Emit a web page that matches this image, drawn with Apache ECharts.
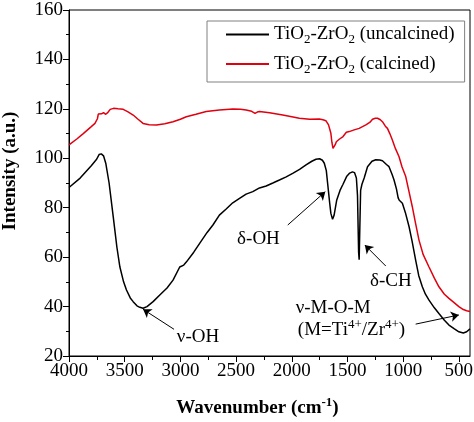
<!DOCTYPE html>
<html>
<head>
<meta charset="utf-8">
<script src="https://cdn.jsdelivr.net/npm/echarts@6/dist/echarts.min.js"></script>
<style>
  html, body { margin: 0; padding: 0; background: #fff; }
  #chart { width: 474px; height: 422px; }
</style>
</head>
<body>
<div id="chart"></div>
<script>
// FTIR spectra, x = wavenumber (cm-1), y = intensity (a.u.)
const uncalcinedWn = [4000, 3900, 3800, 3752, 3730, 3710, 3690, 3670, 3640, 3603, 3570, 3543, 3510, 3484, 3450, 3424, 3390, 3364, 3335, 3300, 3245, 3185, 3120, 3066, 3006, 2970, 2947, 2880, 2827, 2760, 2708, 2650, 2589, 2530, 2469, 2410, 2350, 2290, 2230, 2170, 2111, 2050, 1992, 1930, 1872, 1820, 1783, 1750, 1725, 1708, 1690, 1678, 1660, 1649, 1634, 1620, 1597, 1567, 1540, 1508, 1480, 1455, 1437, 1420, 1410, 1400, 1395, 1390, 1382, 1370, 1350, 1320, 1280, 1246, 1210, 1186, 1150, 1127, 1100, 1082, 1060, 1045, 1035, 1020, 1007, 980, 947, 920, 888, 860, 828, 800, 768, 720, 679, 630, 589, 540, 500, 460, 430, 400];
const uncalcinedI = [88.2, 92, 97, 99.6, 101.5, 101.8, 101, 98, 90, 76.4, 64, 56, 50, 46.7, 43.5, 42, 40.3, 39.7, 39.3, 40, 42, 44.7, 47.5, 50.7, 56, 56.8, 58, 62, 65.6, 70, 73, 77, 79.5, 82, 83.8, 85.5, 86.5, 88, 88.8, 90, 91.2, 92.5, 93.9, 95.5, 97.3, 98.8, 99.6, 99.8, 99.2, 98, 95, 89.8, 82, 77.7, 75.3, 77, 83, 87, 89.5, 92.6, 94, 94.5, 94.2, 92, 85, 62, 59, 70, 87, 89.5, 92, 96.6, 98.8, 99.4, 99.3, 99, 97.5, 96.6, 93.5, 91.2, 87.5, 84, 83, 82.5, 81.8, 78, 72.3, 66.5, 58.8, 52.5, 48, 45, 42.6, 39.5, 37.2, 34.5, 32.5, 31, 29.8, 29.3, 29.8, 31];

const calcinedWn = [4000, 3930, 3872, 3800, 3767, 3745, 3737, 3720, 3708, 3690, 3670, 3650, 3630, 3618, 3600, 3588, 3560, 3513, 3470, 3424, 3380, 3335, 3280, 3215, 3140, 3066, 3000, 2947, 2860, 2768, 2650, 2529, 2460, 2410, 2360, 2330, 2310, 2290, 2200, 2081, 2000, 1932, 1840, 1753, 1720, 1694, 1670, 1649, 1640, 1630, 1620, 1610, 1600, 1574, 1540, 1510, 1484, 1440, 1395, 1335, 1300, 1275, 1250, 1230, 1205, 1186, 1160, 1141, 1120, 1097, 1070, 1037, 1010, 977, 950, 918, 890, 858, 820, 768, 720, 679, 630, 589, 540, 500, 460, 430, 400];
const calcinedI = [105.4, 107.8, 110, 112.8, 114.1, 116, 117.9, 118.2, 118, 118.5, 117.8, 118.6, 119.8, 120.6, 120.2, 120.6, 120, 119.8, 118.8, 117.5, 115.8, 114.1, 113.6, 113.5, 114, 114.8, 115.8, 116.8, 117.8, 118.9, 119.5, 119.9, 119.8, 119.5, 119, 118.2, 118.7, 118.9, 118.4, 117.5, 116.8, 116.2, 115.8, 115.9, 115.6, 115.2, 113.5, 110.1, 106.5, 104, 103.3, 105.5, 106.7, 107.7, 108.8, 110.5, 110.8, 111.5, 112.1, 113.5, 114.5, 115.8, 116.2, 116.2, 115.6, 114.8, 113, 112.1, 110, 107.4, 104, 100.6, 96.5, 92.6, 87, 80.4, 74, 66.9, 61, 56, 51.5, 48, 45, 43.3, 41.5, 40, 38.8, 38.3, 38];

const xMajorTicks = [500, 1000, 1500, 2000, 2500, 3000, 3500, 4000];
const xMinorTicks = [750, 1250, 1750, 2250, 2750, 3250, 3750];

// annotation labels and their arrows (tail -> head), in data units
const notes = [
  { text: '{t|ν-OH}', at: [2842, 27.5] },
  { text: '{t|δ-OH}', at: [2299, 67.2] },
  { text: '{t|δ-CH}', at: [1111, 50.5] },
  { text: '{t|ν-M-O-M}', at: [1628, 39.3] },
  { text: '{t|(M=Ti}{sup|4+}{t|/Zr}{sup|4+}{t|)}', at: [1464, 30.5] }
];
const arrows = [
  [[3057, 30.8], [3335, 38.9]],
  [[2036, 73], [1699, 86.5]],
  [[1156, 56.4], [1344, 64.9]],
  [[888, 32.9], [500, 36.6]]
];

const font = 'Liberation Serif';

function zip(xs, ys) {
  return xs.map((x, i) => [x, ys[i]]);
}

const chart = echarts.init(document.getElementById('chart'), null, { renderer: 'canvas' });

const option = {
  animation: false,
  backgroundColor: '#fff',
  grid: {
    left: 69, right: 4, top: 10, bottom: 66,
    outerBoundsMode: 'none',
    containLabel: false,
    show: true, borderColor: '#000', borderWidth: 1
  },
  legend: {
    orient: 'vertical',
    left: 207, top: 21,
    padding: [4, 10, 6, 19],
    itemGap: 8,
    itemWidth: 43,
    itemHeight: 2,
    icon: 'rect',
    borderColor: '#808080',
    borderWidth: 1,
    backgroundColor: '#fff',
    formatter: function (name) {
      const tail = name.indexOf('uncalcined') >= 0 ? ' (uncalcined)' : ' (calcined)';
      return '{n|TiO}{s|2}{n|-ZrO}{s|2}{n|' + tail + '}';
    },
    textStyle: {
      color: '#000',
      rich: {
        n: { fontFamily: font, fontSize: 19, lineHeight: 24, color: '#000' },
        s: { fontFamily: font, fontSize: 13, lineHeight: 10, verticalAlign: 'bottom', color: '#000' }
      }
    }
  },
  xAxis: [{
    type: 'value',
    inverse: true,
    min: 400, max: 4000, interval: 50,
    name: '{b|Wavenumber (cm}{sup|-1}{b|)}',
    nameLocation: 'middle',
    nameGap: 40,
    nameTextStyle: {
      padding: [0, 24, 0, 0],
      rich: {
        b: { fontFamily: font, fontSize: 19, fontWeight: 'bold', lineHeight: 24, color: '#000' },
        sup: { fontFamily: font, fontSize: 13, fontWeight: 'bold', lineHeight: 12, verticalAlign: 'top', color: '#000' }
      }
    },
    axisLine: { lineStyle: { color: '#000', width: 1 } },
    axisTick: { customValues: xMajorTicks, length: 6, lineStyle: { color: '#000' } },
    axisLabel: {
      customValues: xMajorTicks,
      formatter: v => String(v),
      fontFamily: font, fontSize: 19, color: '#000', margin: 6
    },
    splitLine: { show: false }
  }, {
    // minor ticks along the bottom edge
    type: 'value',
    inverse: true,
    min: 400, max: 4000, interval: 50,
    position: 'top',
    offset: -346,
    axisLine: { show: false },
    axisTick: { customValues: xMinorTicks, inside: true, length: 4, lineStyle: { color: '#000' } },
    axisLabel: { show: false },
    splitLine: { show: false }
  }],
  yAxis: {
    type: 'value',
    min: 20, max: 160, interval: 20,
    name: 'Intensity (a.u.)',
    nameLocation: 'middle',
    nameGap: 49,
    nameTextStyle: {
      fontFamily: font, fontSize: 19, fontWeight: 'bold', color: '#000', lineHeight: 20,
      padding: [0, 0, 0, 24]
    },
    axisLine: { show: true, lineStyle: { color: '#000', width: 1 } },
    axisTick: { show: true, length: 6, lineStyle: { color: '#000' } },
    minorTick: { show: true, splitNumber: 2, length: 3, lineStyle: { color: '#000' } },
    axisLabel: { fontFamily: font, fontSize: 19, color: '#000', margin: 6 },
    splitLine: { show: false }
  },
  series: [{
    name: 'TiO2-ZrO2 (uncalcined)',
    type: 'line',
    data: zip(uncalcinedWn, uncalcinedI),
    showSymbol: false,
    symbol: 'none',
    lineStyle: { color: '#000', width: 1.5 },
    itemStyle: { color: '#000' },
    z: 3,
    markLine: {
      silent: true,
      symbol: ['none', 'arrow'],
      symbolSize: 8,
      label: { show: false },
      lineStyle: { color: '#000', width: 1, type: 'solid' },
      data: arrows.map(a => [{ coord: a[0] }, { coord: a[1] }])
    },
    markPoint: {
      silent: true,
      symbol: 'circle',
      symbolSize: 1,
      itemStyle: { color: 'rgba(0,0,0,0)' },
      label: {
        show: true,
        position: 'inside',
        rich: {
          t: { fontFamily: font, fontSize: 19, lineHeight: 24, color: '#000' },
          sup: { fontFamily: font, fontSize: 13, lineHeight: 12, verticalAlign: 'top', color: '#000' }
        }
      },
      data: notes.map(n => ({ coord: n.at, label: { formatter: n.text } }))
    }
  }, {
    name: 'TiO2-ZrO2 (calcined)',
    type: 'line',
    data: zip(calcinedWn, calcinedI),
    showSymbol: false,
    symbol: 'none',
    lineStyle: { color: '#e0000f', width: 1.5 },
    itemStyle: { color: '#e0000f' },
    z: 2
  }]
};

chart.setOption(option);
</script>
</body>
</html>
